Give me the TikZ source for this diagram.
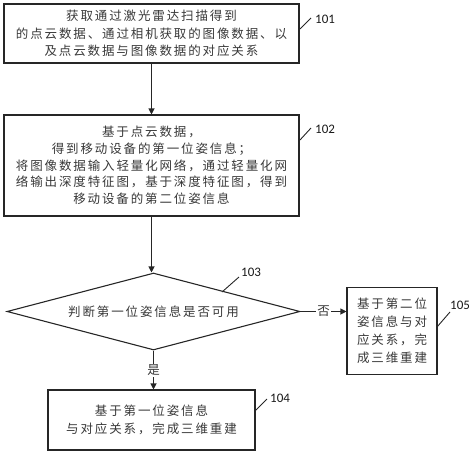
\documentclass[tikz,border=0pt]{standalone}
\usepackage{fontspec}
\usetikzlibrary{shapes.geometric,arrows.meta}
\newfontfamily\cjk{Noto Sans CJK SC}[LetterSpace=15]
\newfontfamily\numf{Carlito}
\begin{document}
\begin{tikzpicture}[x=1pt,y=-1pt,
  ln/.style={line width=1.1pt,draw=black!85},
  arr/.style={ln,-{Triangle[length=6pt,width=6pt]}},
  boxs/.style={ln,rectangle,inner sep=0pt,align=center,font=\cjk\fontsize{12.5}{17.5}\selectfont,text=black!78},
  lbl/.style={font=\numf\fontsize{13}{15}\selectfont,text=black!90,inner sep=1pt},
  yn/.style={font=\cjk\fontsize{12.5}{14}\selectfont,fill=white,inner sep=1pt,text=black!78}]
\useasboundingbox (0,0) rectangle (474,455);
\node[boxs,minimum width=295pt,minimum height=59pt] (b101) at (151.5,33.5)
  {获取通过激光雷达扫描得到\\的点云数据、通过相机获取的图像数据、以\\及点云数据与图像数据的对应关系};
\node[boxs,minimum width=295pt,minimum height=101pt,font=\cjk\fontsize{12.5}{16.7}\selectfont] (b102) at (151.5,165.5)
  {基于点云数据，\\得到移动设备的第一位姿信息；\\将图像数据输入轻量化网络，通过轻量化网\\络输出深度特征图，基于深度特征图，得到\\移动设备的第二位姿信息};
\node[ln,diamond,aspect=3.8,minimum width=293pt,minimum height=77pt,inner sep=0pt,font=\cjk\fontsize{12.5}{14}\selectfont,text=black!78] (d103) at (153.5,311.5)
  {判断第一位姿信息是否可用};
\node[boxs,minimum width=90pt,minimum height=87pt,font=\cjk\fontsize{12.5}{18}\selectfont] (b105) at (392,331)
  {基于第二位\\姿信息与对\\应关系，完\\成三维重建};
\node[boxs,minimum width=207pt,minimum height=60pt,font=\cjk\fontsize{12.5}{18.5}\selectfont] (b104) at (151.5,420)
  {基于第一位姿信息\\与对应关系，完成三维重建};
\draw[arr] (b101.south) -- (b102.north);
\draw[arr] (b102.south) -- (b102.south |- d103.north);
\draw[arr] (d103.south) -- node[yn,pos=0.5]{是} (d103.south |- b104.north);
\draw[arr] (d103.east) -- node[yn,pos=0.5]{否} (d103.east -| b105.west);
% reference labels
\node[lbl,anchor=west] (l101) at (314,19) {101};
\node[lbl,anchor=west] (l102) at (314,129) {102};
\node[lbl,anchor=west] (l103) at (240,272) {103};
\node[lbl,anchor=west] (l105) at (449,305) {105};
\node[lbl,anchor=west] (l104) at (269,398) {104};
\coordinate (c101) at (300,29);
\coordinate (c102) at (300,140);
\coordinate (c103) at (222,292);
\coordinate (c105) at (437,327);
\coordinate (c104) at (255,411);
\draw[ln,line width=0.9pt] (c101) -- (311,18);
\draw[ln,line width=0.9pt] (c102) -- (311,128);
\draw[ln,line width=0.9pt] (c103) -- (239,277);
\draw[ln,line width=0.9pt] (c105) -- (450,312);
\draw[ln,line width=0.9pt] (c104) -- (267,399);
\end{tikzpicture}
\end{document}
